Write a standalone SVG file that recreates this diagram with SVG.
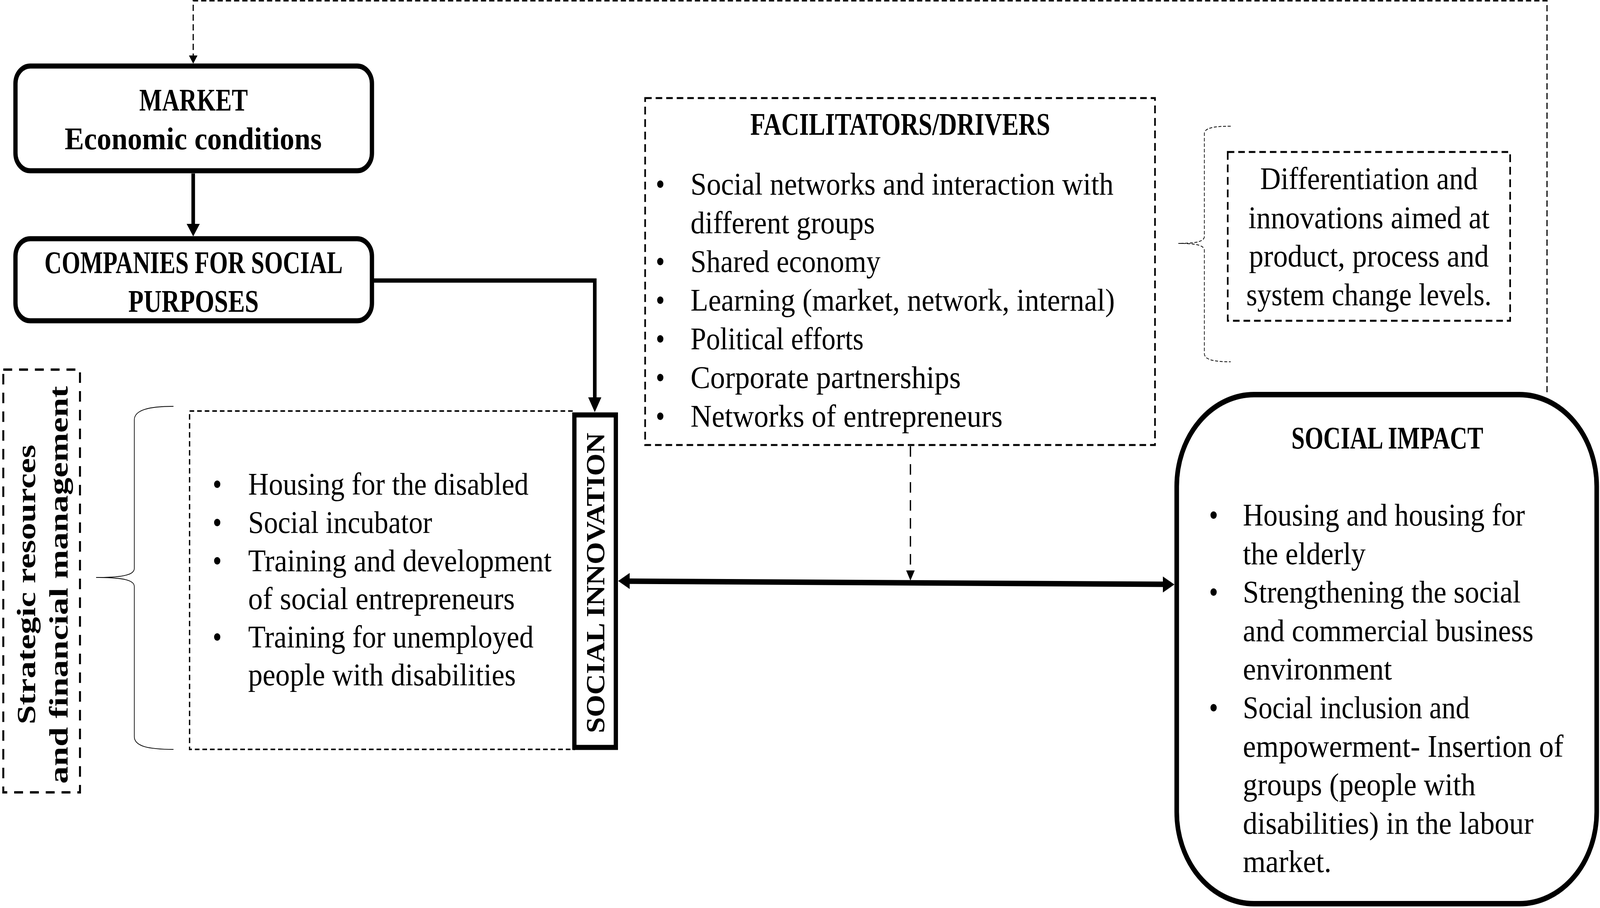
<svg xmlns="http://www.w3.org/2000/svg" width="4861" height="2324" viewBox="0 0 4861 2324" preserveAspectRatio="none">
<style>
svg{width:100vw;height:100vh}
.t{font-family:"Liberation Serif","Times New Roman",serif;font-size:80px;fill:#000}
.b{font-weight:bold}
.c{text-anchor:middle}
.solidbox{fill:none;stroke:#000;stroke-width:13}
.dash{fill:none;stroke:#000;stroke-width:5;stroke-dasharray:20 12}
.thin{fill:none;stroke:#000;stroke-width:2}
.conn{fill:none;stroke:#000;stroke-width:11}
.dconn{fill:none;stroke:#000;stroke-width:3.5;stroke-dasharray:16 9}
.head{fill:#000;stroke:none}
</style>
<rect width="4861" height="2324" fill="#fff"/>

<g id="connectors">
  <!-- feedback dashed loop from SOCIAL IMPACT to MARKET -->
  <path class="dconn" d="M4700,1004 V2 H587 V145"/>
  <polygon class="head" points="574,142 600,142 587,163"/>
  <!-- MARKET -> COMPANIES -->
  <path class="conn" d="M587,444 V576"/>
  <polygon class="head" points="567,573 607,573 587,605"/>
  <!-- COMPANIES -> SOCIAL INNOVATION -->
  <path class="conn" d="M1133,718 H1807 V1020"/>
  <polygon class="head" points="1787,1017 1827,1017 1807,1055"/>
  <!-- FACILITATORS -> double arrow -->
  <path fill="none" stroke="#000" stroke-width="4" stroke-dasharray="27 19" d="M2766,1142 V1462"/>
  <polygon class="head" points="2753,1460 2779,1460 2766,1486"/>
  <!-- double-headed arrow SOCIAL INNOVATION <-> SOCIAL IMPACT -->
  <line x1="1905" y1="1487.5" x2="3540" y2="1495.5" stroke="#000" stroke-width="14"/>
  <polygon class="head" points="1878,1487 1913,1466.5 1913,1507.5"/>
  <polygon class="head" points="3568,1496 3533,1475.5 3533,1516.5"/>
  <!-- left brace -->
  <path class="thin" d="M527,1040 C450,1040 408,1050 408,1075 L408,1455 C408,1470 380,1478 292,1478 C380,1478 408,1486 408,1501 L408,1885 C408,1910 450,1918 527,1918"/>
  <!-- right dashed brace -->
  <path fill="none" stroke="#000" stroke-width="2" stroke-dasharray="9 5" d="M3739,323 C3685,323 3659,328 3659,342 L3659,605 C3659,617 3640,623 3580,623 C3640,623 3659,629 3659,641 L3659,905 C3659,920 3685,926 3739,926"/>
</g>

<g id="market">
  <rect class="solidbox" x="47" y="169" width="1083" height="268" rx="45"/>
  <text class="t b c" x="588" y="283" textLength="330" lengthAdjust="spacingAndGlyphs">MARKET</text>
  <text class="t b c" x="587" y="382" textLength="781" lengthAdjust="spacingAndGlyphs">Economic conditions</text>
</g>

<g id="companies">
  <rect class="solidbox" x="47" y="611" width="1083" height="210" rx="45"/>
  <text class="t b c" x="588" y="699" textLength="906" lengthAdjust="spacingAndGlyphs">COMPANIES FOR SOCIAL</text>
  <text class="t b c" x="588" y="798" textLength="396" lengthAdjust="spacingAndGlyphs">PURPOSES</text>
</g>

<g id="strategic">
  <rect fill="none" stroke="#000" stroke-width="6" stroke-dasharray="27 21" x="10" y="946" width="233" height="1082"/>
  <text class="t b c" font-size="86" transform="translate(107,1496) rotate(-90)" textLength="716" lengthAdjust="spacingAndGlyphs">Strategic resources</text>
  <text class="t b c" font-size="86" transform="translate(205,1497) rotate(-90)" textLength="1018" lengthAdjust="spacingAndGlyphs">and financial management</text>
</g>

<g id="innovations">
  <rect fill="none" stroke="#000" stroke-width="4" stroke-dasharray="14 9" x="576" y="1052" width="1169" height="866"/>
  <g class="t">
    <text x="660" y="1266" class="c">•</text>
    <text x="754" y="1266" textLength="852" lengthAdjust="spacingAndGlyphs">Housing for the disabled</text>
    <text x="660" y="1364" class="c">•</text>
    <text x="754" y="1364" textLength="559" lengthAdjust="spacingAndGlyphs">Social incubator</text>
    <text x="660" y="1462" class="c">•</text>
    <text x="754" y="1462" textLength="922" lengthAdjust="spacingAndGlyphs">Training and development</text>
    <text x="754" y="1559" textLength="810" lengthAdjust="spacingAndGlyphs">of social entrepreneurs</text>
    <text x="660" y="1657" class="c">•</text>
    <text x="754" y="1657" textLength="867" lengthAdjust="spacingAndGlyphs">Training for unemployed</text>
    <text x="754" y="1754" textLength="813" lengthAdjust="spacingAndGlyphs">people with disabilities</text>
  </g>
</g>

<g id="social-innovation">
  <rect class="solidbox" x="1745" y="1062" width="126" height="851"/>
  <text class="t b c" font-size="82" transform="translate(1836,1492) rotate(-90)" textLength="769" lengthAdjust="spacingAndGlyphs">SOCIAL INNOVATION</text>
</g>

<g id="facilitators">
  <rect class="dash" x="1960" y="251" width="1549" height="888"/>
  <text class="t b c" x="2735" y="345" textLength="911" lengthAdjust="spacingAndGlyphs">FACILITATORS/DRIVERS</text>
  <g class="t">
    <text x="2006" y="498" class="c">•</text>
    <text x="2098" y="498" textLength="1285" lengthAdjust="spacingAndGlyphs">Social networks and interaction with</text>
    <text x="2098" y="597" textLength="560" lengthAdjust="spacingAndGlyphs">different groups</text>
    <text x="2006" y="696" class="c">•</text>
    <text x="2098" y="696" textLength="577" lengthAdjust="spacingAndGlyphs">Shared economy</text>
    <text x="2006" y="795" class="c">•</text>
    <text x="2098" y="795" textLength="1289" lengthAdjust="spacingAndGlyphs">Learning (market, network, internal)</text>
    <text x="2006" y="894" class="c">•</text>
    <text x="2098" y="894" textLength="526" lengthAdjust="spacingAndGlyphs">Political efforts</text>
    <text x="2006" y="993" class="c">•</text>
    <text x="2098" y="993" textLength="821" lengthAdjust="spacingAndGlyphs">Corporate partnerships</text>
    <text x="2006" y="1092" class="c">•</text>
    <text x="2098" y="1092" textLength="948" lengthAdjust="spacingAndGlyphs">Networks of entrepreneurs</text>
  </g>
</g>

<g id="differentiation">
  <rect class="dash" x="3730" y="389" width="858" height="432"/>
  <g class="t c">
    <text x="4159" y="484" textLength="661" lengthAdjust="spacingAndGlyphs">Differentiation and</text>
    <text x="4159" y="584" textLength="733" lengthAdjust="spacingAndGlyphs">innovations aimed at</text>
    <text x="4159" y="682" textLength="729" lengthAdjust="spacingAndGlyphs">product, process and</text>
    <text x="4159" y="781" textLength="745" lengthAdjust="spacingAndGlyphs">system change levels.</text>
  </g>
</g>

<g id="social-impact">
  <rect fill="none" stroke="#000" stroke-width="14" x="3575" y="1010" width="1276" height="1303" rx="235"/>
  <text class="t b c" x="4215" y="1148" textLength="583" lengthAdjust="spacingAndGlyphs">SOCIAL IMPACT</text>
  <g class="t">
    <text x="3687" y="1345" class="c">•</text>
    <text x="3776" y="1345" textLength="857" lengthAdjust="spacingAndGlyphs">Housing and housing for</text>
    <text x="3776" y="1444" textLength="373" lengthAdjust="spacingAndGlyphs">the elderly</text>
    <text x="3687" y="1542" class="c">•</text>
    <text x="3776" y="1542" textLength="844" lengthAdjust="spacingAndGlyphs">Strengthening the social</text>
    <text x="3776" y="1641" textLength="883" lengthAdjust="spacingAndGlyphs">and commercial business</text>
    <text x="3776" y="1739" textLength="453" lengthAdjust="spacingAndGlyphs">environment</text>
    <text x="3687" y="1838" class="c">•</text>
    <text x="3776" y="1838" textLength="689" lengthAdjust="spacingAndGlyphs">Social inclusion and</text>
    <text x="3776" y="1937" textLength="974" lengthAdjust="spacingAndGlyphs">empowerment- Insertion of</text>
    <text x="3776" y="2035" textLength="707" lengthAdjust="spacingAndGlyphs">groups (people with</text>
    <text x="3776" y="2134" textLength="883" lengthAdjust="spacingAndGlyphs">disabilities) in the labour</text>
    <text x="3776" y="2232" textLength="269" lengthAdjust="spacingAndGlyphs">market.</text>
  </g>
</g>
</svg>
